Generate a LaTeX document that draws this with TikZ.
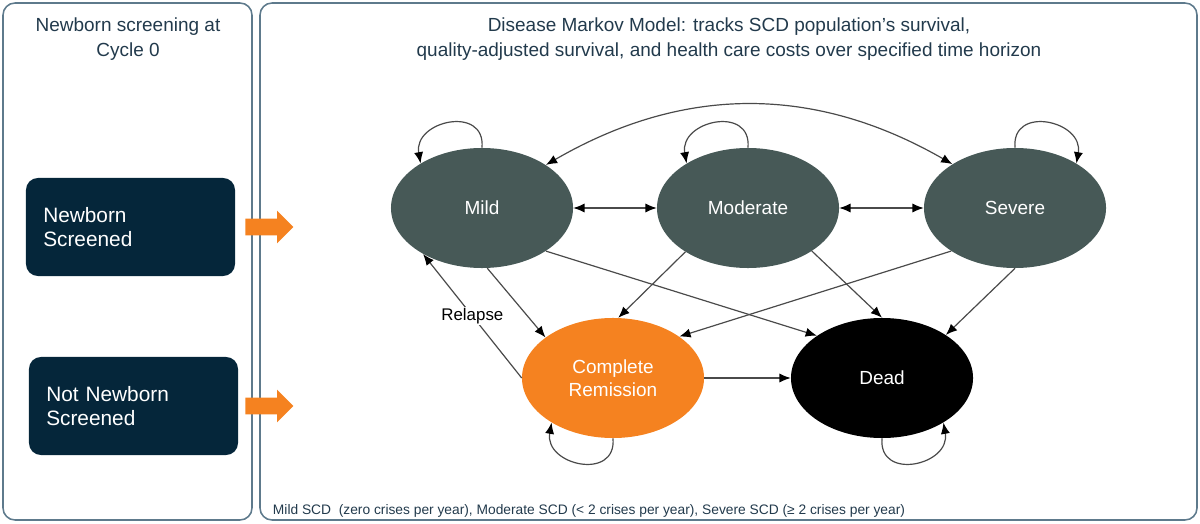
\documentclass[tikz,border=0pt]{standalone}
\usepackage{fontspec}
\setmainfont{Liberation Sans}
\usetikzlibrary{shapes.geometric,shapes.arrows,arrows.meta}

\definecolor{panelc}{HTML}{5E7A8C}
\definecolor{titlec}{HTML}{223A4C}
\definecolor{navyc}{HTML}{05263A}
\definecolor{statec}{HTML}{475957}
\definecolor{orangec}{HTML}{F58220}
\definecolor{linec}{HTML}{4A4A4A}

\begin{document}
\begin{tikzpicture}[x=0.025cm,y=0.025cm,
    panel/.style={draw=panelc,line width=1.1pt,rounded corners=0.3cm},
    titletext/.style={align=center,text=titlec,font=\fontsize{13.5}{17.8}\selectfont},
    startbox/.style={rectangle,rounded corners=0.3cm,fill=navyc,text=white,
        minimum width=5.225cm,minimum height=2.45cm,inner xsep=0.43cm,
        text width=4.36cm,align=left,font=\fontsize{14.8}{17}\selectfont},
    blockarr/.style={single arrow,fill=orangec,minimum height=1.2cm,inner xsep=0pt,
        inner ysep=0.2cm,single arrow head extend=0.2cm,anchor=west},
    state/.style={ellipse,minimum width=4.55cm,minimum height=3cm,inner sep=0pt,
        text=white,font=\fontsize{13.5}{16}\selectfont,align=center},
    trans/.style={draw=linec,line width=0.85pt,-{Latex[length=8pt,width=6.5pt,color=black]}},
    both/.style={draw=linec,line width=0.85pt,
        {Latex[length=8pt,width=6.5pt,color=black]}-{Latex[length=8pt,width=6.5pt,color=black]}}
  ]
  \useasboundingbox (0,0) rectangle (1200,-524);

  % Panels
  \draw[panel] (3,-3) rectangle (252,-520);
  \draw[panel] (260,-3) rectangle (1197,-520);
  \node[titletext] (lefttitle) at (128,-39) {Newborn screening at\\Cycle 0};
  \node[titletext] (righttitle) at (729,-39) {Disease Markov Model: tracks SCD population's survival,\\quality-adjusted survival, and health care costs over specified time horizon};

  % Cycle 0
  \node[startbox] (screened) at (130.5,-227) {Newborn\\Screened};
  \node[startbox] (notscreened) at (133.5,-406) {Not Newborn\\Screened};
  \node[blockarr] (screenedarr) at (245,-227) {};
  \node[blockarr] (notscreenedarr) at (245,-406) {};

  % States
  \node[state,fill=statec] (mild) at (482,-208) {Mild};
  \node[state,fill=statec] (moderate) at (748,-208) {Moderate};
  \node[state,fill=statec] (severe) at (1015,-208) {Severe};
  \node[state,fill=orangec] (remission) at (613,-378) {Complete\\Remission};
  \node[state,fill=black] (dead) at (882,-378) {Dead};

  % Staying in the same state
  \draw[trans] (mild.90) to[out=85,in=100,looseness=1.75] (mild.144);
  \draw[trans] (moderate.90) to[out=85,in=100,looseness=1.75] (moderate.144);
  \draw[trans] (severe.90) to[out=95,in=80,looseness=1.75] (severe.36);
  \draw[trans] (remission.-90) to[out=-85,in=-100,looseness=1.75] (remission.216);
  \draw[trans] (dead.-90) to[out=-95,in=-80,looseness=1.75] (dead.-36);

  % Between severity levels
  \draw[both] (mild.east) -- (moderate.west);
  \draw[both] (moderate.east) -- (severe.west);
  \draw[both] (mild.34) to[bend left=30] (severe.145);

  % Towards remission and death
  \draw[trans] (mild.-85) -- (remission.149);
  \draw[trans] (mild.-34) -- (dead.147);
  \draw[trans] (moderate.215) -- (remission.85);
  \draw[trans] (moderate.-34) -- (dead.90);
  \draw[trans] (severe.214) -- (remission.32);
  \draw[trans] (severe.-90) -- (dead.34);
  \draw[trans] (remission.east) -- (dead.west);
  \draw[trans] (remission.west) -- node[fill=white,inner sep=1pt,text=black,
      font=\fontsize{12}{14}\selectfont] (relapse) {Relapse} (mild.218);

  % Footnote
  \node[anchor=base west,text=titlec,font=\fontsize{9.8}{11}\selectfont] (note)
    at (268,-514) {Mild SCD\ \ (zero crises per year), Moderate SCD (< 2 crises per year), Severe SCD (≥ 2 crises per year)};
\end{tikzpicture}
\end{document}
